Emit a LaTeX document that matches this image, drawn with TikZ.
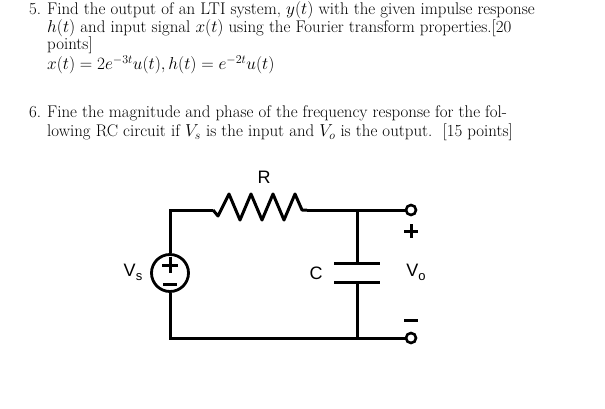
\documentclass[tikz,border=0pt]{standalone}
\usepackage{fontspec}
\newfontfamily\hv{Liberation Sans}
\begin{document}
\begin{tikzpicture}[x=1pt,y=-1pt,
  txt/.style={anchor=base west,inner sep=0pt,font=\fontsize{16.9}{19}\selectfont},
  lab/.style={inner sep=0pt,font=\hv\fontsize{18}{20}\selectfont},
  w/.style={line width=3pt},
  term/.style={circle,draw,line width=2.6pt,minimum size=10pt,inner sep=0pt,fill=white}]
\useasboundingbox (0,0) rectangle (605,409);
\node[txt] (n5) at (29,15) {5.};
\node[txt] (l1) at (47,15) {Find the output of an LTI system, $y(t)$ with the given impulse response};
\node[txt] (l2) at (47,33) {$h(t)$ and input signal $x(t)$ using the Fourier transform properties.[20};
\node[txt] (l3) at (47,50) {points]};
\node[txt] (l4) at (47,70) {$x(t)=2e^{-3t}u(t), h(t)=e^{-2t}u(t)$};
\node[txt] (n6) at (29,118) {6.};
\node[txt] (l5) at (47,118) {Fine the magnitude and phase of the frequency response for the fol-};
\node[txt] (l6) at (47,137) {lowing RC circuit if $V_s$ is the input and $V_o$ is the output.\ \ [15 points]};
% circuit
\coordinate (tl) at (170,210);
\coordinate (bl) at (170,338);
\coordinate (r1) at (213,210);
\coordinate (r2) at (307,210);
\coordinate (ct) at (357,210);
\coordinate (cb) at (357,338);
\node[circle,draw,line width=2.8pt,minimum size=37pt,inner sep=0pt] (src) at (170,273) {};
\draw[w] (src.north) -- (tl) -- (r1);
\draw[w,line join=round] (r1) -- (218,216) -- (229,194) -- (240,220) -- (251,194) -- (262,220) -- (273,194) -- (284,220) -- (295,194) -- (302,210) -- (r2);
\draw[w] (r2) -- (ct) -- (406,210);
\draw[w] (src.south) -- (bl) -- (cb) -- (406,338);
\draw[w] (ct) -- (357,263);
\draw[w] (357,282) -- (cb);
\draw[w] (334,263) -- (380,263);
\draw[w] (334,282) -- (380,282);
\draw[w] (162,265) -- (178,265) (170,257) -- (170,273);
\draw[w] (163,284) -- (177,284);
\node[term] (tp) at (411,210) {};
\node[term] (tm) at (411,338) {};
\draw[w] (404,231) -- (418,231) (411,224) -- (411,238);
\draw[w] (404,320) -- (418,320);
\node[lab] (R) at (264,177) {R};
\node[lab] (C) at (316,273) {C};
\node[lab] (Vo) at (416,272) {V\raisebox{-4pt}{\fontsize{13}{14}\selectfont o}};
\node[lab] (Vs) at (133,272) {V\raisebox{-4pt}{\fontsize{13}{14}\selectfont s}};
\end{tikzpicture}
\end{document}
